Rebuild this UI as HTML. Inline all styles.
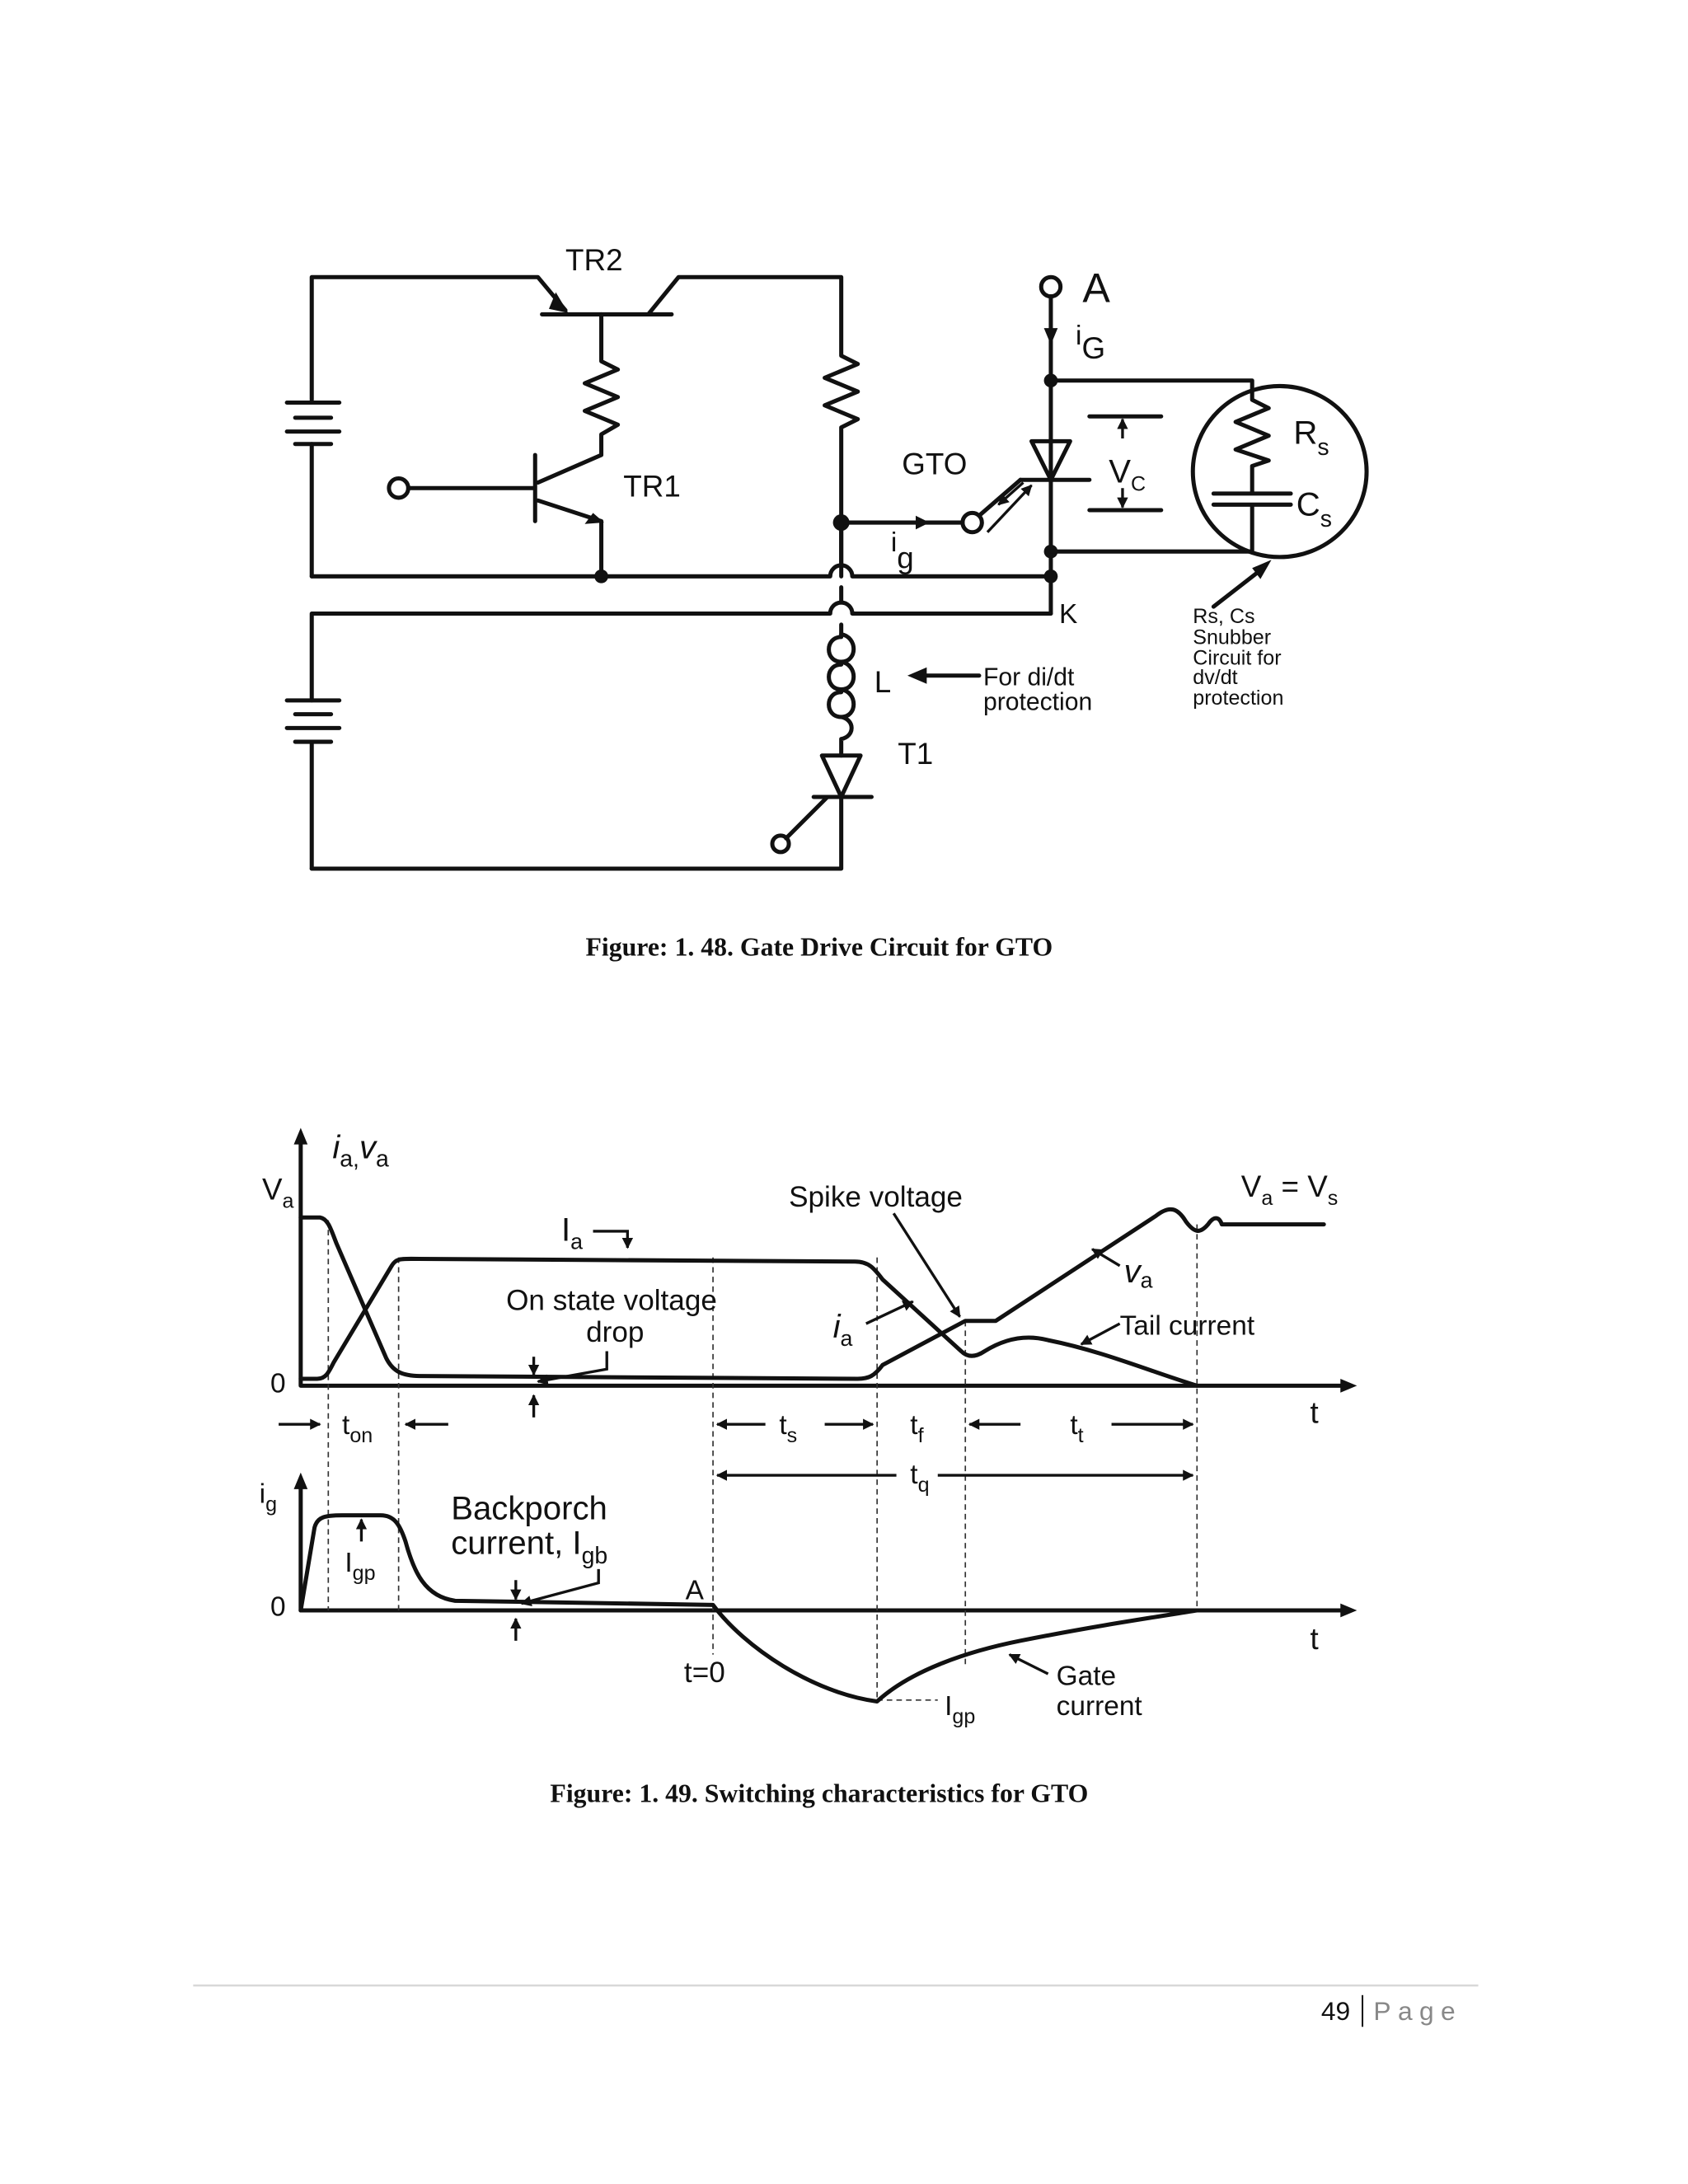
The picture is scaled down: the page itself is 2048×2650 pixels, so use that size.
<!DOCTYPE html>
<html><head><meta charset="utf-8"><style>
html,body{margin:0;padding:0;background:#fff;}
svg{display:block;}
text{font-family:"Liberation Sans",sans-serif;fill:#111;}
.s{fill:none;stroke:#111;stroke-width:3;stroke-linejoin:round;stroke-linecap:round;}
.t{fill:none;stroke:#111;stroke-width:2;}
.d{fill:none;stroke:#333;stroke-width:1;stroke-dasharray:4 3;}
.cap{font-family:"Liberation Serif",serif;font-weight:bold;font-size:19px;}
</style></head><body>
<svg width="2048" height="2650" viewBox="0 0 1224 1584" xmlns="http://www.w3.org/2000/svg">
<defs>
<marker id="ar" viewBox="0 0 10 10" refX="9" refY="5" markerWidth="4" markerHeight="4" orient="auto"><path d="M0,0 L10,5 L0,10 z" fill="#111"/></marker>
</defs>
<!-- ============ CIRCUIT ============ -->
<path class="s" d="M226,418 V322 M226,290 V201 H390 L410,225"/>
<path d="M403,212 L412,227 L398,224 z" fill="#111"/>
<path class="s" d="M393,228 H487 M470,228 L492,201 H610 V258 L622,264 L598,274 L622,284 L598,294 L622,304 L610,310 V418"/>
<path class="s" d="M208,292 H246 M214,303 H240 M208,313 H246 M214,322 H240"/>
<path class="s" d="M436,228 V262 L448,268 L424,278 L448,288 L424,298 L448,308 L436,315 V330 L390,350"/>
<path class="s" d="M388,330 V378 M296,354 H388 M390,363 L436,378 V418"/>
<path d="M430,372 L438,379 L424,380 z" fill="#111"/>
<circle cx="289" cy="354" r="7" class="s" fill="#fff"/>
<circle cx="436" cy="418" r="5" fill="#111"/>
<path class="s" d="M226,418 H602 A8,8 0 0 1 618,418 H762"/>
<circle cx="610" cy="379" r="6" fill="#111"/>
<path class="s" d="M610,379 H698"/>
<path d="M664,374 L674,379 L664,384 z" fill="#111"/>
<circle cx="705" cy="379" r="7" class="s" fill="#fff"/>
<path class="s" d="M710,374 L740,348"/>
<path class="t" d="M716,386 L748,352" marker-end="url(#ar)"/>
<path class="t" d="M742,350 L724,366" marker-end="url(#ar)"/>
<circle cx="762" cy="208" r="7" class="s" fill="#fff"/>
<path class="s" d="M762,215 V445"/>
<path d="M757,238 L762,250 L767,238 z" fill="#111"/>
<path class="s" d="M748,320 H776 L762,348 z M740,348 H790"/>
<circle cx="762" cy="276" r="5" fill="#111"/>
<circle cx="762" cy="400" r="5" fill="#111"/>
<circle cx="762" cy="418" r="5" fill="#111"/>
<path class="s" d="M790,302 H842 M790,370 H842"/>
<path class="t" d="M814,318 V304" marker-end="url(#ar)"/>
<path class="t" d="M814,354 V368" marker-end="url(#ar)"/>
<text x="804" y="350" font-size="24">V<tspan font-size="15" dy="6">C</tspan></text>
<path class="s" d="M762,276 H908 V290 L920,296 L896,306 L920,316 L896,326 L920,334 L908,338 V358 M880,358 H936 M880,366 H936 M908,366 V400 H762"/>
<ellipse cx="928" cy="342" rx="63" ry="62" class="s"/>
<text x="938" y="322" font-size="24">R<tspan font-size="17" dy="8">s</tspan></text>
<text x="940" y="374" font-size="24">C<tspan font-size="17" dy="8">s</tspan></text>
<path class="s" d="M880,440 L916,412"/>
<path d="M922,406 L914,420 L908,412 z" fill="#111"/>
<text x="865" y="452" font-size="15">Rs, Cs</text>
<text x="865" y="467" font-size="15">Snubber</text>
<text x="865" y="482" font-size="15">Circuit for</text>
<text x="865" y="496" font-size="15">dv/dt</text>
<text x="865" y="511" font-size="15">protection</text>
<path class="s" d="M226,630 V538 M226,508 V445 H602 A8,8 0 0 1 618,445 H762"/>
<path class="s" d="M208,508 H246 M214,518 H240 M208,528 H246 M214,538 H240"/>
<path class="s" d="M610,379 V410 M610,426 V437 M610,453 V460"/>
<path class="s" d="M610,460 C622,462 622,480 610,480 C598,480 598,462 610,462 M610,480 C622,482 622,500 610,500 C598,500 598,482 610,482 M610,500 C622,502 622,520 610,520 C598,520 598,502 610,502 M610,520 C620,522 620,534 610,536 V548"/>
<path class="s" d="M596,548 H624 L610,578 z M590,578 H632 M610,578 V630 H226 M600,578 L570,608"/>
<circle cx="566" cy="612" r="6" class="s" fill="#fff"/>
<text x="410" y="196" font-size="22">TR2</text>
<text x="452" y="360" font-size="22">TR1</text>
<text x="654" y="344" font-size="22">GTO</text>
<text x="785" y="219" font-size="30">A</text>
<text x="780" y="250" font-size="20">i<tspan font-size="22" dy="10">G</tspan></text>
<text x="646" y="400" font-size="20">i<tspan font-size="22" dy="12">g</tspan></text>
<text x="768" y="452" font-size="20">K</text>
<text x="634" y="502" font-size="22">L</text>
<path class="s" d="M710,490 H670"/>
<path d="M672,484 L658,490 L672,496 z" fill="#111"/>
<text x="713" y="497" font-size="18">For di/dt</text>
<text x="713" y="515" font-size="18">protection</text>
<text x="651" y="554" font-size="22">T1</text>
<text x="594" y="693" text-anchor="middle" class="cap">Figure: 1. 48. Gate Drive Circuit for GTO</text>

<!-- ============ GRAPH ============ -->
<path class="s" d="M218,1005 V825 M218,1005 H975"/>
<path d="M213,830 L218,818 L223,830 z M972,1000 L984,1005 L972,1010 z" fill="#111"/>
<path class="s" d="M218,1168 V1075 M218,1168 H975"/>
<path d="M213,1080 L218,1068 L223,1080 z M972,1163 L984,1168 L972,1173 z" fill="#111"/>
<path class="d" d="M238,885 V1168 M289,912 V1168 M517,912 V1200 M636,912 V1233 M700,958 V1210 M868,888 V1168"/>
<path class="d" d="M636,1233 H680"/>
<path class="s" d="M218,883 H232 C238,884 240,892 244,902 L280,985 C285,995 292,998 305,998 L622,1000 C630,1000 634,998 640,990 L700,958 H722 L838,882 C848,874 854,876 860,886 C866,894 870,895 876,888 C880,882 884,882 886,888 H960"/>
<path class="s" d="M218,1000 H230 C236,1000 238,996 242,988 L284,918 C287,913 290,913 298,913 L620,915 C630,915 634,920 640,928 L697,980 C702,985 708,984 714,980 C730,970 745,968 760,972 C800,980 835,995 868,1005"/>
<path class="s" d="M218,1168 L228,1108 C230,1100 236,1099 248,1099 H276 C286,1099 290,1106 294,1118 C300,1140 308,1158 330,1161 L517,1164 C540,1195 590,1228 636,1234 C660,1212 700,1198 740,1190 C790,1180 830,1174 868,1168"/>
<text x="241" y="840" font-size="24" font-style="italic" font-family="Liberation Serif">i<tspan font-size="17" font-style="normal" font-family="Liberation Sans" dy="6">a,</tspan><tspan dy="-6">v</tspan><tspan font-size="17" font-style="normal" font-family="Liberation Sans" dy="6">a</tspan></text>
<text x="190" y="870" font-size="22">V<tspan font-size="15" dy="6">a</tspan></text>
<text x="196" y="1010" font-size="20">0</text>
<text x="196" y="1172" font-size="20">0</text>
<text x="188" y="1090" font-size="20">i<tspan font-size="15" dy="6">g</tspan></text>
<text x="950" y="1032" font-size="22">t</text>
<text x="950" y="1196" font-size="22">t</text>
<text x="407" y="900" font-size="24">I<tspan font-size="16" dy="6">a</tspan></text>
<path class="t" d="M430,893 H455 V905" marker-end="url(#ar)"/>
<text x="367" y="950" font-size="21">On state voltage</text>
<text x="425" y="973" font-size="21">drop</text>
<path class="t" d="M440,980 V993 L390,1002" marker-end="url(#ar)"/>
<path class="t" d="M387,984 V997" marker-end="url(#ar)"/>
<path class="t" d="M387,1028 V1012" marker-end="url(#ar)"/>
<text x="572" y="875" font-size="21">Spike voltage</text>
<path class="t" d="M648,880 L696,955" marker-end="url(#ar)"/>
<text x="604" y="970" font-size="24" font-style="italic" font-family="Liberation Serif">i<tspan font-size="16" font-style="normal" font-family="Liberation Sans" dy="6">a</tspan></text>
<path class="t" d="M628,960 L662,944" marker-end="url(#ar)"/>
<text x="900" y="868" font-size="22">V<tspan font-size="15" dy="6">a</tspan><tspan dy="-6"> = V</tspan><tspan font-size="15" dy="6">s</tspan></text>
<text x="815" y="930" font-size="24" font-style="italic" font-family="Liberation Serif">v<tspan font-size="16" font-style="normal" font-family="Liberation Sans" dy="4">a</tspan></text>
<path class="t" d="M812,918 L792,906" marker-end="url(#ar)"/>
<text x="812" y="968" font-size="20">Tail current</text>
<path class="t" d="M812,960 L784,975" marker-end="url(#ar)"/>
<path class="t" d="M202,1033 H232" marker-end="url(#ar)"/>
<text x="248" y="1040" font-size="20">t<tspan font-size="15" dy="6">on</tspan></text>
<path class="t" d="M325,1033 H294" marker-end="url(#ar)"/>
<path class="t" d="M555,1033 H520" marker-end="url(#ar)"/>
<text x="565" y="1040" font-size="20">t<tspan font-size="15" dy="6">s</tspan></text>
<path class="t" d="M598,1033 H633" marker-end="url(#ar)"/>
<text x="660" y="1040" font-size="20">t<tspan font-size="15" dy="6">f</tspan></text>
<path class="t" d="M740,1033 H703" marker-end="url(#ar)"/>
<text x="776" y="1040" font-size="20">t<tspan font-size="15" dy="6">t</tspan></text>
<path class="t" d="M806,1033 H865" marker-end="url(#ar)"/>
<path class="t" d="M650,1070 H520" marker-end="url(#ar)"/>
<text x="660" y="1076" font-size="20">t<tspan font-size="15" dy="6">q</tspan></text>
<path class="t" d="M680,1070 H865" marker-end="url(#ar)"/>
<path class="t" d="M262,1118 V1102" marker-end="url(#ar)"/>
<text x="250" y="1140" font-size="20">I<tspan font-size="15" dy="6">gp</tspan></text>
<text x="327" y="1102" font-size="24">Backporch</text>
<text x="327" y="1127" font-size="24">current, I<tspan font-size="17" dy="7">gb</tspan></text>
<path class="t" d="M434,1138 V1148 L378,1163" marker-end="url(#ar)"/>
<path class="t" d="M374,1146 V1160" marker-end="url(#ar)"/>
<path class="t" d="M374,1190 V1174" marker-end="url(#ar)"/>
<text x="497" y="1160" font-size="20">A</text>
<text x="496" y="1220" font-size="21">t=0</text>
<text x="685" y="1244" font-size="20">I<tspan font-size="15" dy="6">gp</tspan></text>
<text x="766" y="1222" font-size="20">Gate</text>
<text x="766" y="1244" font-size="20">current</text>
<path class="t" d="M760,1214 L732,1200" marker-end="url(#ar)"/>
<text x="594" y="1307" text-anchor="middle" class="cap">Figure: 1. 49. Switching characteristics for GTO</text>
<line x1="140" y1="1440" x2="1072" y2="1440" stroke="#d8d8d8" stroke-width="1.5"/>
<text x="958" y="1465" font-size="19" fill="#111">49</text>
<line x1="988" y1="1447" x2="988" y2="1470" stroke="#111" stroke-width="1.2"/>
<text x="996" y="1465" font-size="19" style="fill:#888" letter-spacing="5">Page</text>
</svg>
</body></html>
